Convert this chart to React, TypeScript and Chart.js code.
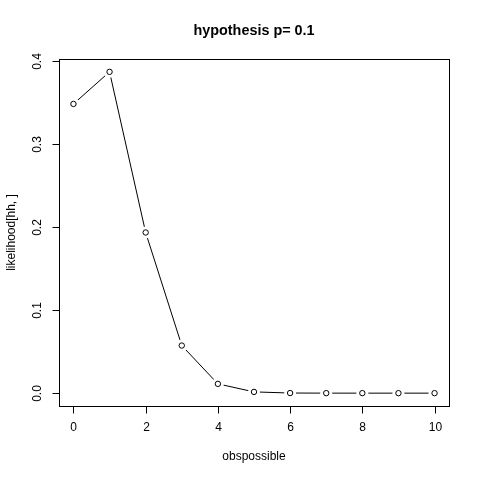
import { useEffect, useRef } from "react";
import { Chart, registerables } from "chart.js";
Chart.register(...registerables);

const obspossible = [0, 1, 2, 3, 4, 5, 6, 7, 8, 9, 10];
const likelihood = [0.3487, 0.3874, 0.1937, 0.0574, 0.0112, 0.0015, 0.00014, 0.0000087, 0.00000036, 0.000000009, 0.0000000001];
const xTicks = [0, 2, 4, 6, 8, 10];
const xTickLabels = ["0", "2", "4", "6", "8", "10"];
const yTicks = [0, 0.1, 0.2, 0.3, 0.4];
const yTickLabels = ["0.0", "0.1", "0.2", "0.3", "0.4"];
const titleText = "hypothesis p= 0.1";
const xTitle = "obspossible";
const yTitle = "likelihood[hh, ]";

const FONT = '"Liberation Sans", Arial, Helvetica, sans-serif';

const rPlot = {
  id: "rPlot",
  afterDraw(chart: any) {
    const { ctx, chartArea } = chart;
    const xs = chart.scales.x;
    const ys = chart.scales.y;
    const L = Math.round(chartArea.left) + 0.5;
    const T = Math.round(chartArea.top) + 0.5;
    const R = Math.round(chartArea.right) + 0.5;
    const B = Math.round(chartArea.bottom) + 0.5;
    ctx.save();
    ctx.strokeStyle = "#000";
    ctx.lineWidth = 1;
    ctx.strokeRect(L, T, R - L, B - T);
    ctx.fillStyle = "#000";
    ctx.font = `12px ${FONT}`;
    ctx.textAlign = "center";
    ctx.textBaseline = "middle";
    xTicks.forEach((v, i) => {
      const px = Math.round(xs.getPixelForValue(v)) + 0.5;
      ctx.beginPath();
      ctx.moveTo(px, B);
      ctx.lineTo(px, B + 7);
      ctx.stroke();
      ctx.fillText(xTickLabels[i], px, B + 21);
    });
    yTicks.forEach((v, i) => {
      const py = Math.round(ys.getPixelForValue(v)) + 0.5;
      ctx.beginPath();
      ctx.moveTo(L, py);
      ctx.lineTo(L - 7, py);
      ctx.stroke();
      ctx.save();
      ctx.translate(38, py);
      ctx.rotate(-Math.PI / 2);
      ctx.fillText(yTickLabels[i], 0, 0);
      ctx.restore();
    });
    const cx = (chartArea.left + chartArea.right) / 2;
    const cy = (chartArea.top + chartArea.bottom) / 2;
    ctx.fillText(xTitle, cx, 457);
    ctx.save();
    ctx.translate(12, cy);
    ctx.rotate(-Math.PI / 2);
    ctx.fillText(yTitle, 0, 0);
    ctx.restore();
    ctx.font = `bold 14.4px ${FONT}`;
    ctx.textBaseline = "alphabetic";
    ctx.fillText(titleText, cx, 35);
    ctx.restore();
  },
};

export default function App() {
  const ref = useRef<HTMLCanvasElement>(null);
  useEffect(() => {
    const pts = obspossible.map((x, i) => ({ x, y: likelihood[i] }));
    const chart = new Chart(ref.current!, {
      type: "scatter",
      data: {
        datasets: [
          {
            data: pts,
            showLine: true,
            borderColor: "#000",
            borderWidth: 1,
            pointRadius: 0,
            order: 3,
          } as any,
          {
            data: pts,
            showLine: false,
            pointRadius: 6,
            pointBackgroundColor: "#fff",
            pointBorderColor: "#fff",
            pointBorderWidth: 0,
            order: 2,
          },
          {
            data: pts,
            showLine: false,
            pointRadius: 2.7,
            pointBackgroundColor: "rgba(255,255,255,0)",
            pointBorderColor: "#000",
            pointBorderWidth: 1,
            order: 1,
          },
        ],
      },
      options: {
        animation: false,
        responsive: false,
        events: [],
        layout: { padding: { left: 59, top: 59, right: 31, bottom: 74 } },
        plugins: { legend: { display: false }, tooltip: { enabled: false }, title: { display: false } },
        scales: {
          x: { type: "linear", min: -0.4, max: 10.4, display: false },
          y: { type: "linear", min: -0.0155, max: 0.4029, display: false },
        },
      },
      plugins: [rPlot],
    });
    return () => chart.destroy();
  }, []);
  return (
    <div style={{ position: "fixed", left: 0, top: 0, width: 480, height: 480, background: "#fff" }}>
      <canvas ref={ref} width={480} height={480} style={{ width: 480, height: 480 }} />
    </div>
  );
}
